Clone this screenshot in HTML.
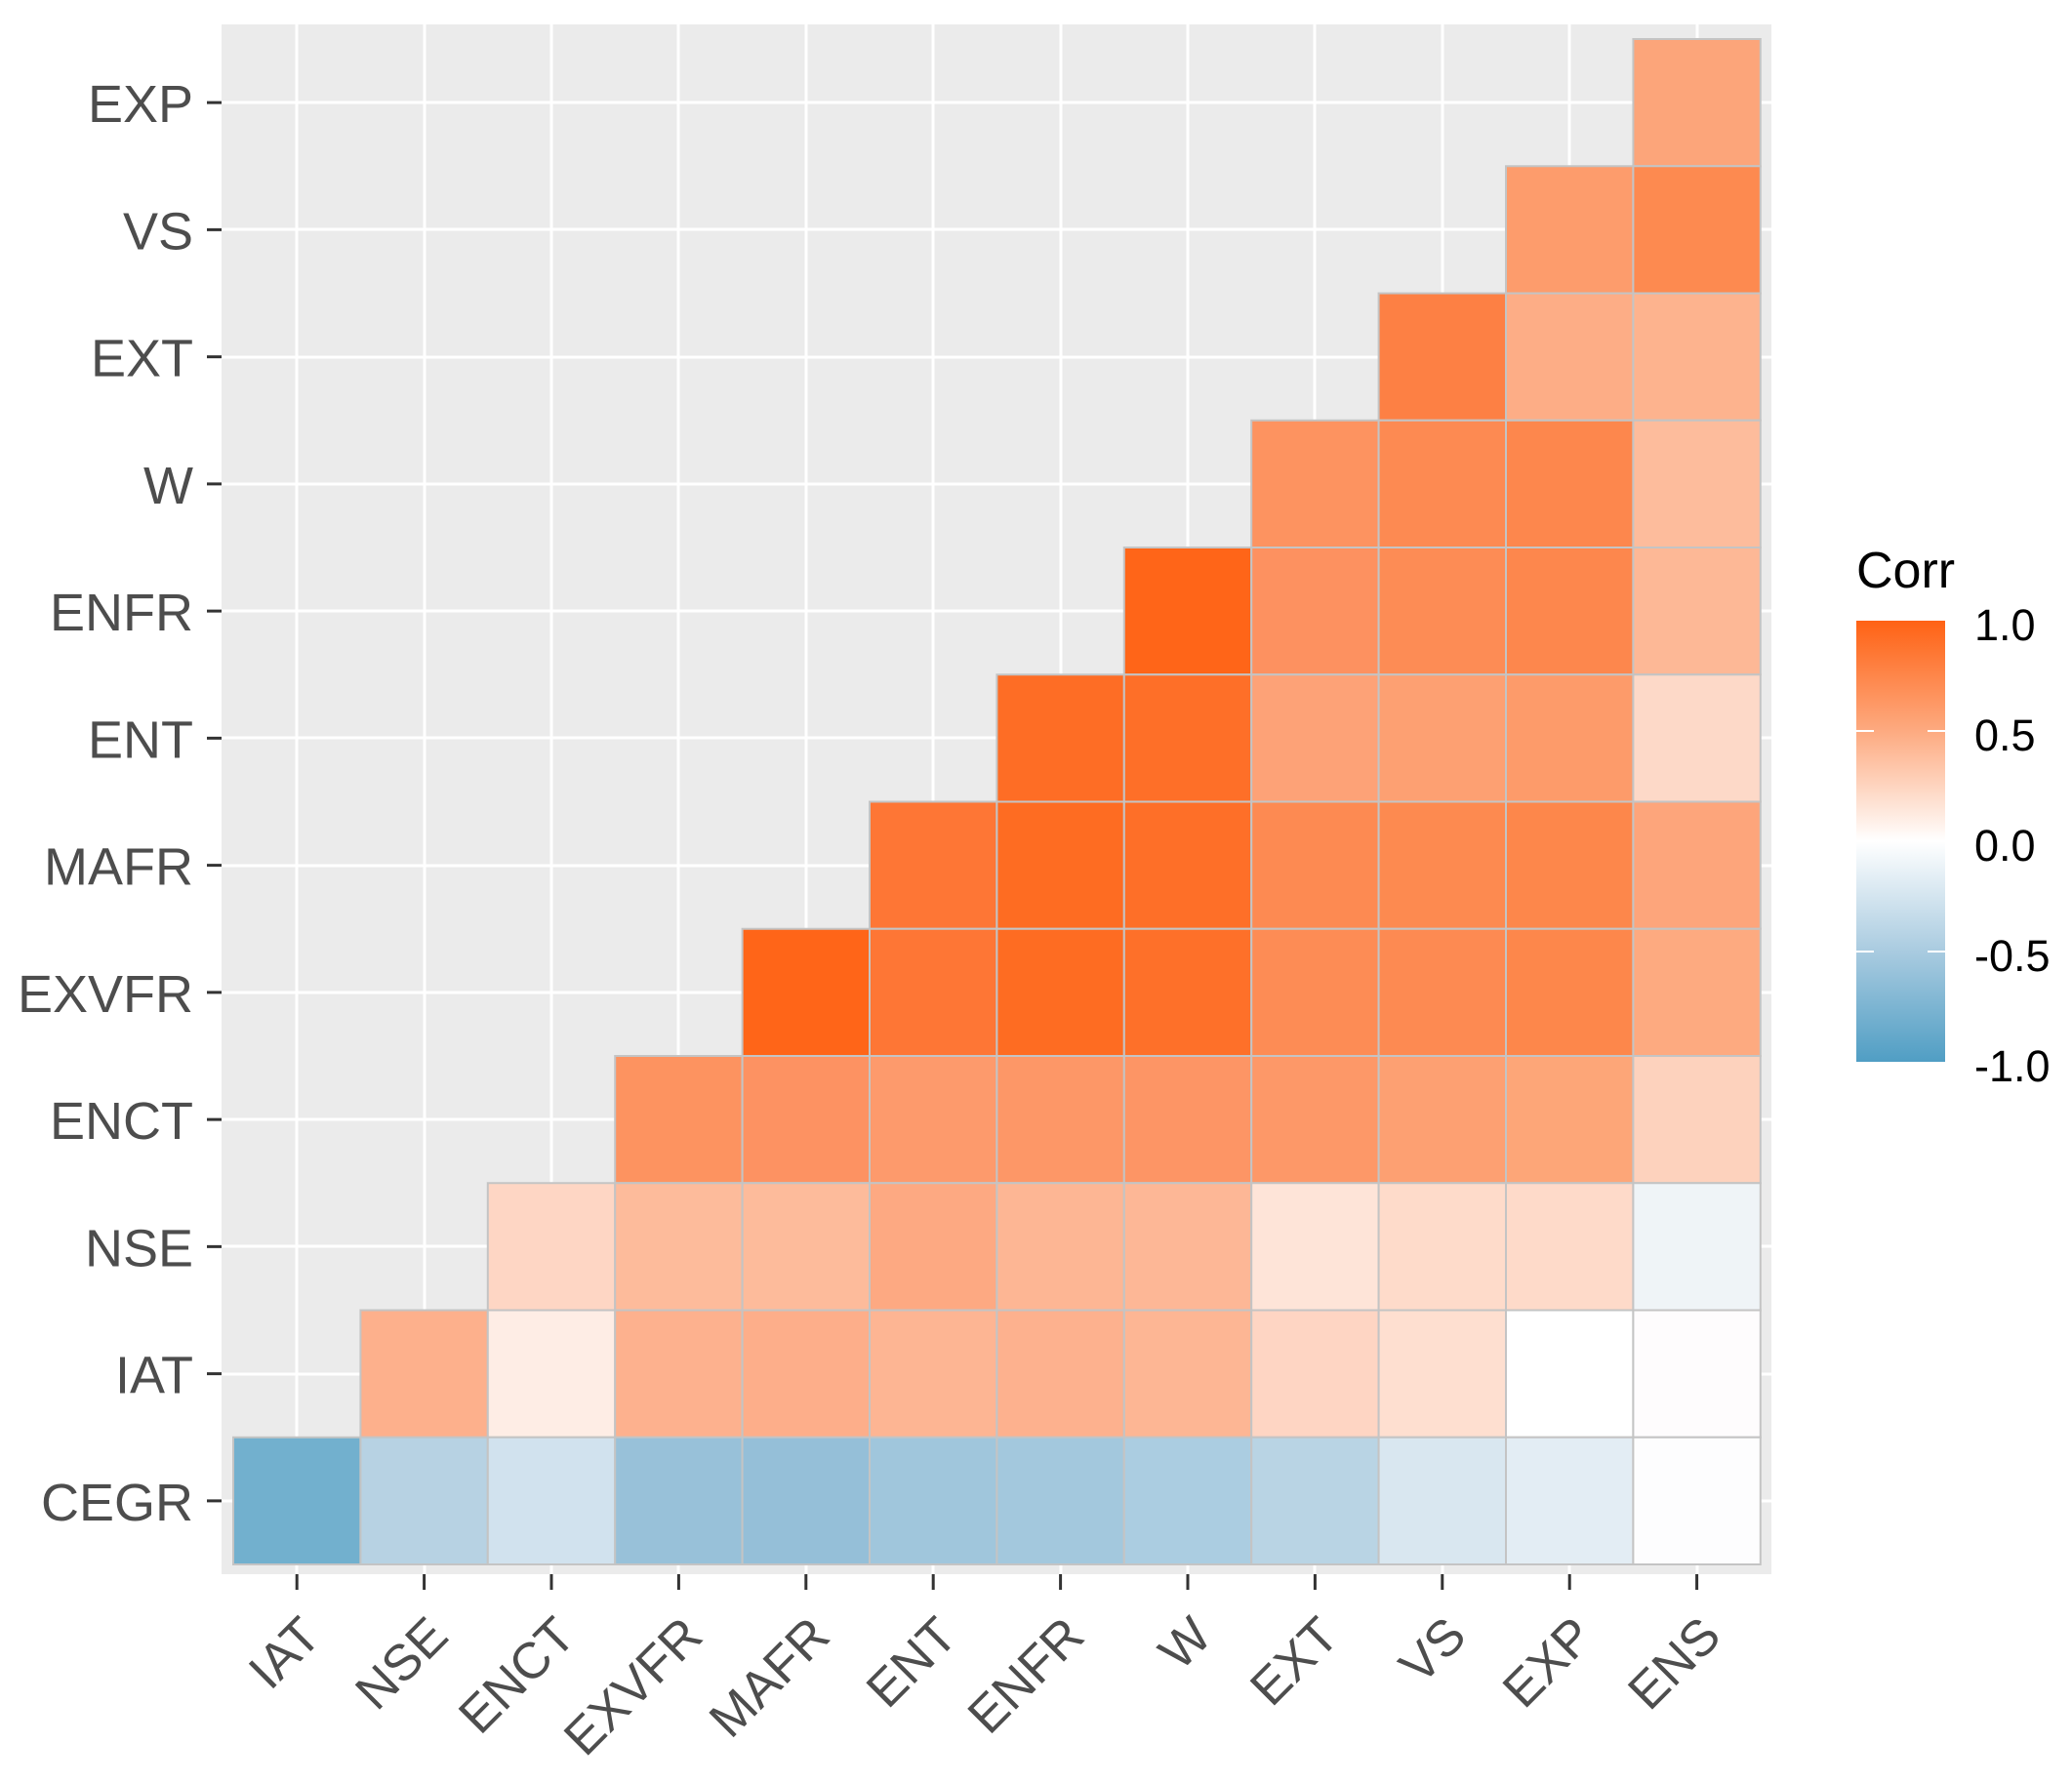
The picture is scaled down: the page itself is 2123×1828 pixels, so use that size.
<!DOCTYPE html>
<html><head><meta charset="utf-8"><style>
html,body{margin:0;padding:0;background:#fff}
svg{display:block}
text{font-family:"Liberation Sans",Arial,sans-serif}
</style></head><body>
<svg width="2123" height="1828" viewBox="0 0 2123 1828" xmlns="http://www.w3.org/2000/svg">
<defs>
<linearGradient id="cb" x1="0" y1="0" x2="0" y2="1">
<stop offset="0" stop-color="#ff6214"/>
<stop offset="0.25" stop-color="#fdaa80"/>
<stop offset="0.5" stop-color="#ffffff"/>
<stop offset="0.75" stop-color="#a9cbe0"/>
<stop offset="1" stop-color="#509ec4"/>
</linearGradient>
</defs>
<rect x="227" y="25" width="1588" height="1588" fill="#ebebeb"/>
<g stroke="#ffffff" stroke-width="3">
<line x1="304" y1="25" x2="304" y2="1613"/><line x1="435" y1="25" x2="435" y2="1613"/><line x1="565" y1="25" x2="565" y2="1613"/><line x1="695" y1="25" x2="695" y2="1613"/><line x1="826" y1="25" x2="826" y2="1613"/><line x1="956" y1="25" x2="956" y2="1613"/><line x1="1087" y1="25" x2="1087" y2="1613"/><line x1="1217" y1="25" x2="1217" y2="1613"/><line x1="1347" y1="25" x2="1347" y2="1613"/><line x1="1478" y1="25" x2="1478" y2="1613"/><line x1="1608" y1="25" x2="1608" y2="1613"/><line x1="1739" y1="25" x2="1739" y2="1613"/>
<line x1="227" y1="105" x2="1815" y2="105"/><line x1="227" y1="235" x2="1815" y2="235"/><line x1="227" y1="366" x2="1815" y2="366"/><line x1="227" y1="496" x2="1815" y2="496"/><line x1="227" y1="626" x2="1815" y2="626"/><line x1="227" y1="756" x2="1815" y2="756"/><line x1="227" y1="887" x2="1815" y2="887"/><line x1="227" y1="1017" x2="1815" y2="1017"/><line x1="227" y1="1147" x2="1815" y2="1147"/><line x1="227" y1="1277" x2="1815" y2="1277"/><line x1="227" y1="1408" x2="1815" y2="1408"/><line x1="227" y1="1538" x2="1815" y2="1538"/>
</g>
<g id="tiles" stroke="#c4c4c4" stroke-width="2"></g>
<g fill="#4d4d4d" font-size="54" text-anchor="end" id="ylab"></g>
<g stroke="#333" stroke-width="3" id="ticks"></g>
<g fill="#4d4d4d" font-size="52" text-anchor="end" id="xlab"></g>
<text x="1902" y="602" font-size="52" fill="#000">Corr</text>
<rect x="1902" y="636" width="91" height="452" fill="url(#cb)"/>
<g stroke="#fff" stroke-width="2">
<line x1="1902" y1="749" x2="1920" y2="749"/><line x1="1975" y1="749" x2="1993" y2="749"/>
<line x1="1902" y1="862" x2="1920" y2="862"/><line x1="1975" y1="862" x2="1993" y2="862"/>
<line x1="1902" y1="975" x2="1920" y2="975"/><line x1="1975" y1="975" x2="1993" y2="975"/>
</g>
<g font-size="45" fill="#000">
<text x="2023" y="656">1.0</text>
<text x="2023" y="769">0.5</text>
<text x="2023" y="882">0.0</text>
<text x="2023" y="995">-0.5</text>
<text x="2023" y="1108">-1.0</text>
</g>
</svg>
<script>
var ns="http://www.w3.org/2000/svg";
var xn=["IAT","NSE","ENCT","EXVFR","MAFR","ENT","ENFR","W","EXT","VS","EXP","ENS"];
var yn=["EXP","VS","EXT","W","ENFR","ENT","MAFR","EXVFR","ENCT","NSE","IAT","CEGR"];
var rows=[
["fca57a"],
["fd9c6c","fd8a50"],
["fd8044","fdad86","fdb38e"],
["fd9360","fd8a52","fd874d","fdbc9c"],
["ff6518","fd9160","fd8c55","fd874d","fdb896"],
["fe6d25","fe6f28","fda277","fda072","fd9b6a","fdd9c8"],
["fe7635","fe6c22","fe6f28","fd8a52","fd8a50","fd874b","fda57b"],
["ff6518","fe7635","fe6c22","fe7029","fd8c55","fd8a52","fd874b","fdaa80"],
["fd9360","fd9262","fd9a6c","fd9767","fd9565","fd9868","fda072","fda678","fdd2bd"],
["fed6c4","fdbb9b","fdbb9b","fda982","fdb694","fdb796","fee4d8","fedbca","fedac9","eff4f7"],
["fdb08c","feede5","fdb18e","fdae8a","fdb593","fdb18e","fdb694","fed5c3","fedfd0","ffffff","fefcfd"],
["72b0ce","b7d2e3","d1e2ee","98c1d9","95bfd8","a0c6dc","a3c8dd","abcde1","b9d4e4","d9e7f0","e3edf4","fdfdfe"]];
var X0=239,CW=130.4,Y0=40,CH=130.25;
var g=document.getElementById("tiles");
for(var i=0;i<12;i++){var r=rows[i];var start=12-r.length;
for(var k=0;k<r.length;k++){var j=start+k;var e=document.createElementNS(ns,"rect");
e.setAttribute("x",X0+j*CW);e.setAttribute("y",Y0+i*CH);e.setAttribute("width",CW);e.setAttribute("height",CH);
e.setAttribute("fill","#"+r[k]);g.appendChild(e);}}
var yl=document.getElementById("ylab"),tk=document.getElementById("ticks"),xl=document.getElementById("xlab");
for(var i=0;i<12;i++){var cy=Y0+CH*(i+0.5);
var t=document.createElementNS(ns,"text");t.setAttribute("x",198);t.setAttribute("y",cy+20);t.textContent=yn[i];yl.appendChild(t);
var l=document.createElementNS(ns,"line");l.setAttribute("x1",212);l.setAttribute("x2",227);l.setAttribute("y1",cy);l.setAttribute("y2",cy);tk.appendChild(l);}
for(var j=0;j<12;j++){var cx=X0+CW*(j+0.5);
var l=document.createElementNS(ns,"line");l.setAttribute("x1",cx);l.setAttribute("x2",cx);l.setAttribute("y1",1613);l.setAttribute("y2",1629);tk.appendChild(l);
var t=document.createElementNS(ns,"text");var ax=cx+27,ay=1679;t.setAttribute("x",ax);t.setAttribute("y",ay);
t.setAttribute("transform","rotate(-45 "+ax+" "+ay+")");t.textContent=xn[j];xl.appendChild(t);}
</script>
</body></html>
